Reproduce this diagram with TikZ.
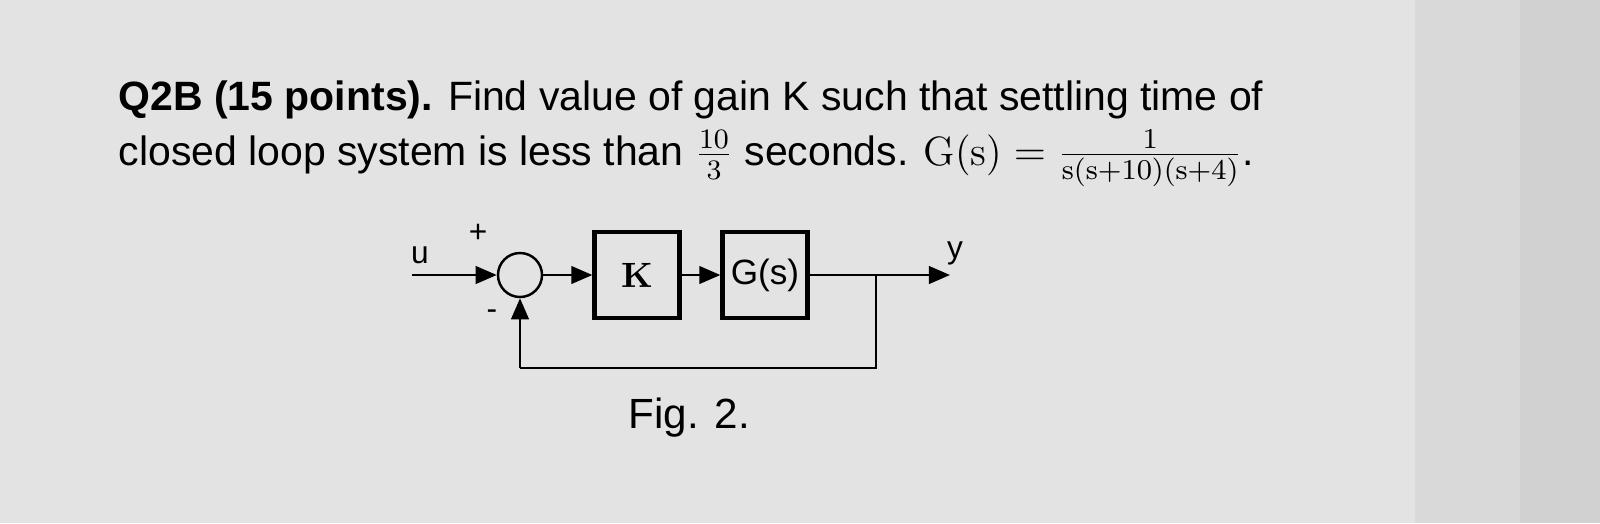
\documentclass[tikz,border=0pt]{standalone}
\usepackage{fontspec}
\setmainfont{Liberation Sans}
\newfontfamily\serifmath{Latin Modern Roman}
\usepackage{amsmath}
\usetikzlibrary{arrows.meta}
\newcommand{\sm}[1]{\text{\serifmath #1}}
\begin{document}
\begin{tikzpicture}[x=0.01cm,y=0.01cm,
  blk/.style={draw,line width=1.2pt,minimum width=0.85cm,minimum height=0.86cm,inner sep=0},
  sig/.style={line width=0.7pt,-{Triangle[length=6pt,width=5pt]}},
  ln/.style={line width=0.7pt},
  lbl/.style={font=\fontsize{9pt}{10pt}\selectfont}]
\useasboundingbox (0,0) rectangle (1600,523);
\fill[gray!22] (0,0) rectangle (1600,523);
\fill[gray!30] (1415,0) rectangle (1600,523);
\fill[gray!36] (1520,0) rectangle (1600,523);
\node[anchor=base west,inner sep=0,font=\fontsize{11.65pt}{13pt}\selectfont] (l1) at (118,413)
  {\textbf{Q2B (15 points).} Find value of gain K such that settling time of};
\node[anchor=base west,inner sep=0,font=\fontsize{11.65pt}{13pt}\selectfont] (l2) at (118,358)
  {closed loop system is less than $\frac{10}{3}$ seconds. $\sm{G(s)}=\frac{\sm{1}}{\sm{s(s+10)(s+4)}}$.};
\coordinate (in) at (412,248);
\node[draw,circle,line width=0.7pt,minimum size=0.44cm,inner sep=0] (sum) at (520,248) {};
\node[blk] (K) at (637,248) {\serifmath\bfseries K};
\node[blk,font=\fontsize{10pt}{12pt}\selectfont] (G) at (765,248) {G(s)};
\coordinate (br) at (876,248);
\coordinate (out) at (950,248);
\coordinate (fb) at (876,155);
\coordinate (fb2) at (520,155);
\draw[sig] (in) -- (sum);
\draw[sig] (sum) -- (K);
\draw[sig] (K) -- (G);
\draw[sig] (G) -- (out);
\draw[ln] (br) -- (fb) -- (fb2);
\draw[sig] (fb2) -- (sum);
\node[lbl] (u) at (420,268) {u};
\node[lbl] (p) at (478,290) {+};
\node[lbl] (m) at (492,208) {-};
\node[lbl] (y) at (955,270) {y};
\node[anchor=base west,inner sep=0,font=\fontsize{12pt}{13pt}\selectfont] (fig) at (628,95) {Fig. 2.};
\end{tikzpicture}
\end{document}
